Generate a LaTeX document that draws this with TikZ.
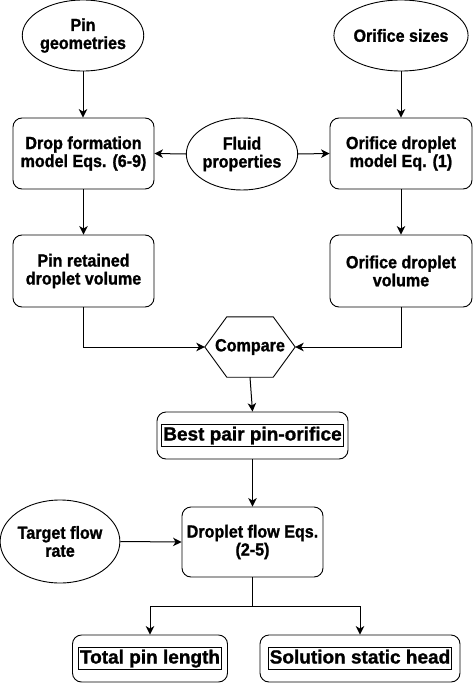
\documentclass[tikz,border=0pt]{standalone}
\usepackage{fontspec}
\setmainfont{Liberation Sans}
\newfontfamily\boxfont{Liberation Sans}[FakeStretch=0.92,FakeBold=1.2]
\newfontfamily\framefont{Liberation Sans}[FakeBold=1.2]
\usetikzlibrary{shapes.geometric,arrows.meta,calc}
\begin{document}
\begin{tikzpicture}[x=1pt,y=-1pt,
  every node/.style={font=\boxfont\fontsize{17.5}{18}\selectfont\bfseries, align=center, inner sep=0pt},
  ell/.style={draw, ellipse, line width=0.9pt},
  rbox/.style={draw, rectangle, rounded corners=9pt, line width=0.9pt},
  frametext/.style={draw, rectangle, line width=0.8pt, font=\framefont\fontsize{19}{21}\selectfont\bfseries,
    text height=14pt, text depth=4pt, inner xsep=1.5pt, inner ysep=2pt},
  conn/.style={line width=1pt, -{Stealth[length=8.5pt,width=8.5pt,inset=2.5pt]}},
  plain/.style={line width=1pt}
]
\useasboundingbox (0,0) rectangle (474,685);
\fill[white] (0,0) rectangle (474,685);

\node[ell, minimum width=110pt, minimum height=71pt] (pin) at (83,35.5) {Pin\\geometries};
\node[ell, minimum width=108pt, minimum height=71pt] (ori) at (401,35.5) {Orifice sizes};

\node[rbox, minimum width=141pt, minimum height=71pt] (drop) at (83.5,153.5) {Drop formation\\model Eqs. (6-9)};
\node[ell, minimum width=106pt, minimum height=72pt] (fluid) at (242,154) {Fluid\\properties};
\node[rbox, minimum width=142pt, minimum height=71pt] (odm) at (401,153.5) {Orifice droplet\\model Eq. (1)};

\node[rbox, minimum width=141pt, minimum height=72pt] (pinvol) at (83.5,271) {Pin retained\\droplet volume};
\node[rbox, minimum width=142pt, minimum height=72pt] (orivol) at (401,271) {Orifice droplet\\volume};

\node[minimum width=90pt, minimum height=60pt] (cmp) at (250,347) {Compare};
\draw[line width=0.9pt] (cmp.west) -- ($(cmp.north west)+(22,0)$) -- ($(cmp.north east)+(-22,0)$)
  -- (cmp.east) -- ($(cmp.south east)+(-22,0)$) -- ($(cmp.south west)+(22,0)$) -- cycle;

\node[rbox, minimum width=191pt, minimum height=47pt] (best) at (252.5,435.5) {};
\node[frametext] (bestlbl) at (best.center) {Best pair pin-orifice};

\node[ell, minimum width=116pt, minimum height=83pt] (target) at (60,541.5) {Target flow\\rate};
\node[rbox, minimum width=141pt, minimum height=70pt] (flow) at (252.5,542) {Droplet flow Eqs.\\(2-5)};

\node[rbox, minimum width=155pt, minimum height=47pt] (total) at (150,658.5) {};
\node[frametext] (totallbl) at (total.center) {Total pin length};
\node[rbox, minimum width=200pt, minimum height=47pt] (sol) at (360,658.5) {};
\node[frametext] (sollbl) at (sol.center) {Solution static head};

\coordinate (split) at (252.5,606);

\draw[conn] (pin.south) -- (drop.north -| pin.south);
\draw[conn] (ori.south) -- (odm.north -| ori.south);
\draw[conn] (fluid.west) -- (drop.east);
\draw[conn] (fluid.east) -- (odm.west);
\draw[conn] (drop.south) -- (pinvol.north);
\draw[conn] (odm.south) -- (orivol.north);
\draw[conn] (pinvol.south) |- (cmp.west);
\draw[conn] (orivol.south) |- (cmp.east);
\draw[conn] (cmp.south) -- (best.north);
\draw[conn] (best.south) -- (flow.north);
\draw[conn] (target.east) -- (flow.west);
\draw[plain] (flow.south) -- (split);
\draw[conn] (split) -| (total.north);
\draw[conn] (split) -| (sol.north);
\end{tikzpicture}
\end{document}
